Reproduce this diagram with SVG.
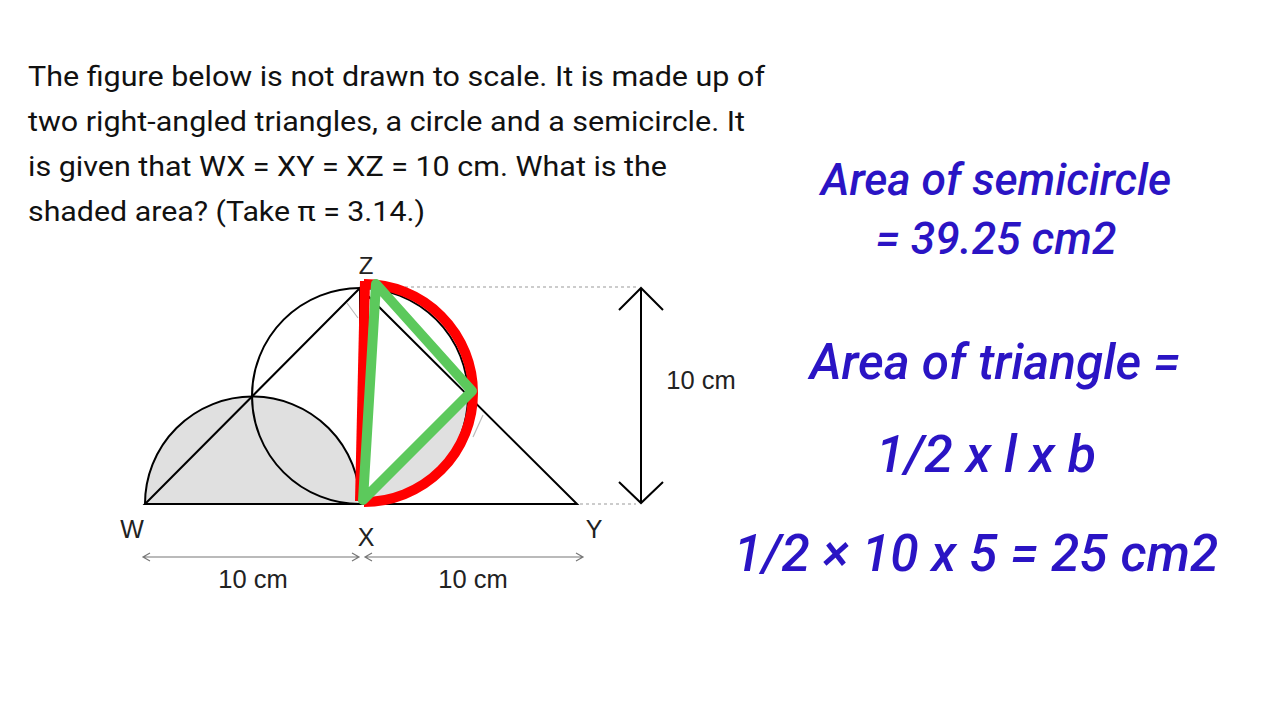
<svg xmlns="http://www.w3.org/2000/svg" width="1280" height="720" viewBox="0 0 1280 720">
<style>
.q{font-family:Roboto,"Noto Sans",sans-serif;font-size:28px;fill:#111}
.lbl{font-family:"Liberation Sans",Arial,sans-serif;fill:#222}
.blue{font-family:Roboto,"Noto Sans",sans-serif;font-style:italic;font-weight:500;fill:#2a14c4;text-anchor:middle}
.blk{fill:none;stroke:#000;stroke-width:2}
.dim{fill:none;stroke:#777;stroke-width:1.2}
.dash{fill:none;stroke:#999;stroke-width:1;stroke-dasharray:3 3}
</style>
<rect width="1280" height="720" fill="#fff"/>
<g id="question">
<text class="q" x="28" y="86" textLength="737" lengthAdjust="spacingAndGlyphs">The figure below is not drawn to scale. It is made up of</text>
<text class="q" x="28" y="131" textLength="717" lengthAdjust="spacingAndGlyphs">two right-angled triangles, a circle and a semicircle. It</text>
<text class="q" x="28" y="176" textLength="639" lengthAdjust="spacingAndGlyphs">is given that WX = XY = XZ = 10 cm. What is the</text>
<text class="q" x="28" y="221" textLength="397" lengthAdjust="spacingAndGlyphs">shaded area? (Take π = 3.14.)</text>
</g>
<g id="figure">
<path d="M145,504 A107.5,107.5 0 0 1 360,504 Z" fill="#e0e0e0"/>
<path d="M360,504 L468,396 A108,108 0 0 1 360,504 Z" fill="#e0e0e0"/>
<path class="blk" d="M145,504 A107.5,107.5 0 0 1 360,504"/>
<circle class="blk" cx="360" cy="396" r="108"/>
<path class="blk" d="M145,504 L360,288 L577,504 Z"/>
<path class="blk" d="M360,288 L360,504 M360,504 L468,396"/>
<path d="M347,303 L358,318 M473,437 L483,415" stroke="#bbb" stroke-width="1.2" fill="none"/>
<path class="dash" d="M405,287 L636,287 M580,504 L636,504"/>
<path class="blk" d="M641,289 L641,503 M619,310 L641,288 L663,310 M619,482 L641,503 L663,482"/>
<text class="lbl" x="701" y="389" font-size="25.5" text-anchor="middle">10 cm</text>
<text class="lbl" x="366" y="274" font-size="24" text-anchor="middle">Z</text>
<text class="lbl" x="132" y="538" font-size="25" text-anchor="middle">W</text>
<text class="lbl" x="366" y="546" font-size="25" text-anchor="middle">X</text>
<text class="lbl" x="594" y="538" font-size="25" text-anchor="middle">Y</text>
<path class="dim" d="M143,557 L359,557 M150,553 L143,557 L150,561 M352,553 L359,557 L352,561"/>
<path class="dim" d="M365,557 L583,557 M372,553 L365,557 L372,561 M576,553 L583,557 L576,561"/>
<text class="lbl" x="253" y="588" font-size="25.5" text-anchor="middle">10 cm</text>
<text class="lbl" x="473" y="588" font-size="25.5" text-anchor="middle">10 cm</text>
</g>
<g id="highlight">
<path d="M365,281 L360,501" stroke="#ff0000" stroke-width="10" fill="none"/>
<path d="M364,284 A109,109 0 0 1 364,502" stroke="#ff0000" stroke-width="10" fill="none"/>
<path d="M376,284 L472,391 L363,500 Z" stroke="#5cc95c" stroke-width="10" fill="none" stroke-linejoin="round" stroke-linecap="round"/>
</g>
<g id="working">
<text class="blue" x="996" y="195" font-size="44.5">Area of semicircle</text>
<text class="blue" x="996" y="254" font-size="44.5">= 39.25 cm2</text>
<text class="blue" x="995" y="379" font-size="49.5">Area of triangle =</text>
<text class="blue" x="986" y="472" font-size="52">1/2 x l x b</text>
<text class="blue" x="976" y="571" font-size="51.5">1/2 × 10 x 5 = 25 cm2</text>
</g>
</svg>
